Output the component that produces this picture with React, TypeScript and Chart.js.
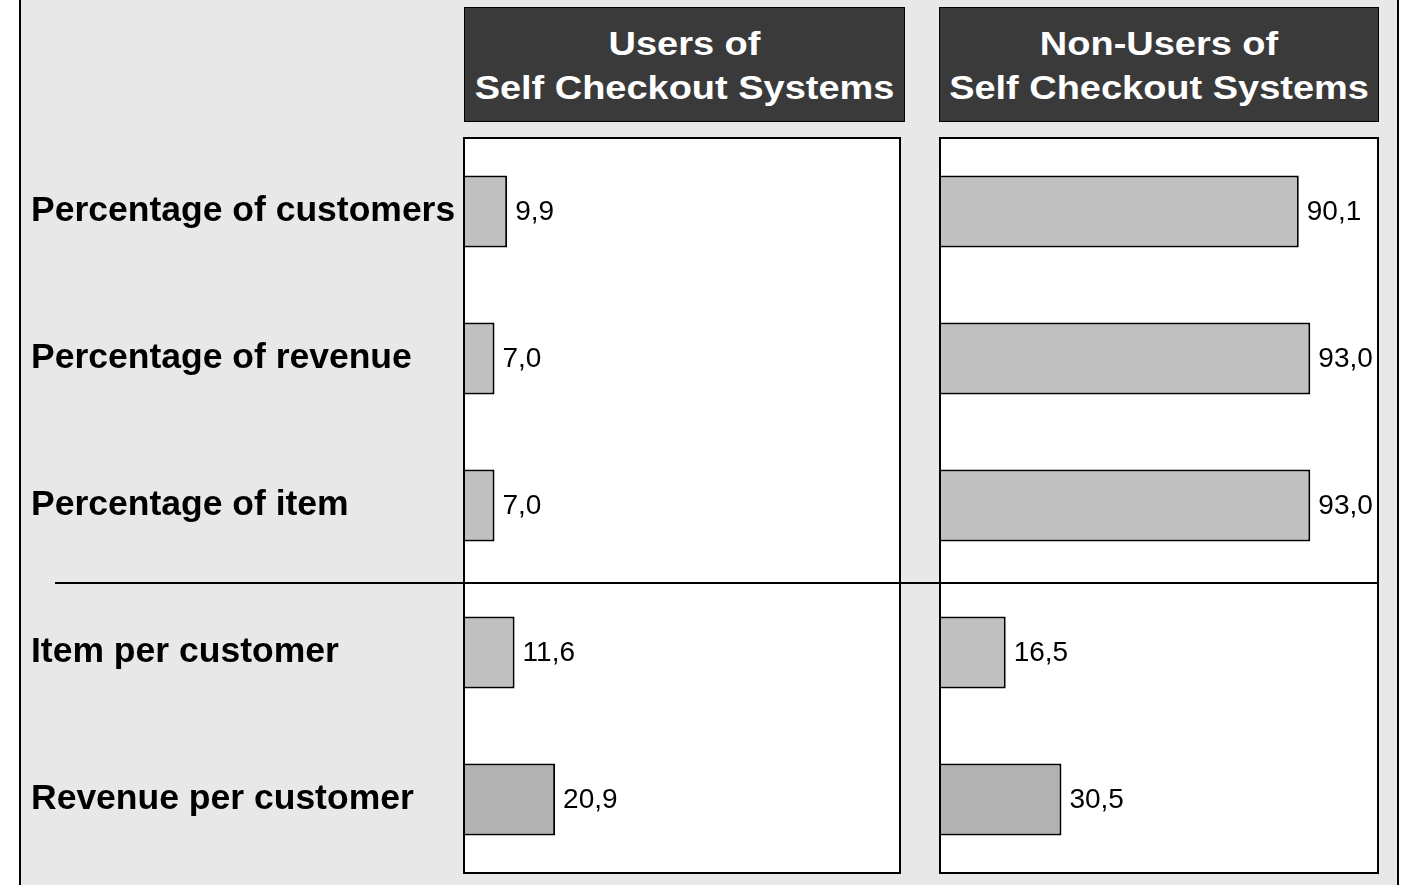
import React, { useEffect, useRef } from 'react';
import { Chart, registerables } from 'chart.js';

Chart.register(...registerables);

// ---- data ----
const categories = [
  'Percentage of customers',
  'Percentage of revenue',
  'Percentage of item',
  'Item per customer',
  'Revenue per customer',
];
const usersValues = [9.9, 7.0, 7.0, 11.6, 20.9];
const nonUsersValues = [90.1, 93.0, 93.0, 16.5, 30.5];
const usersTitle = ['Users of', 'Self Checkout Systems'];
const nonUsersTitle = ['Non-Users of', 'Self Checkout Systems'];
const barColors = ['#c0c0c0', '#c0c0c0', '#c0c0c0', '#c0c0c0', '#b2b2b2'];
const usersAxisMax = 100;
const nonUsersAxisMax = 110;
const separatorAfterIndex = 2; // line between "Percentage of item" and "Item per customer"

const FONT = '"Liberation Sans", Arial, Helvetica, sans-serif';

const fmt = (v: number) => v.toFixed(1).replace('.', ',');

function makeDecorPlugin(values: number[], sepStart: number, sepToCanvasEdge: boolean) {
  return {
    id: 'panelDecor',
    beforeDraw(chart: any) {
      const { ctx, chartArea: a } = chart;
      ctx.save();
      ctx.fillStyle = '#ffffff';
      ctx.fillRect(a.left, a.top, a.right - a.left, a.bottom - a.top);
      ctx.restore();
    },
    afterDatasetsDraw(chart: any) {
      const { ctx, chartArea: a } = chart;
      const ys = chart.scales.y;
      ctx.save();
      // frame
      ctx.strokeStyle = '#000';
      ctx.lineWidth = 2;
      ctx.strokeRect(a.left, a.top, a.right - a.left, a.bottom - a.top);
      // separator
      const sy =
        (ys.getPixelForValue(separatorAfterIndex) + ys.getPixelForValue(separatorAfterIndex + 1)) / 2 + 4;
      ctx.beginPath();
      ctx.moveTo(sepStart, sy);
      ctx.lineTo(sepToCanvasEdge ? chart.width : a.right, sy);
      ctx.stroke();
      // value labels
      ctx.fillStyle = '#000';
      ctx.font = `28px ${FONT}`;
      ctx.textAlign = 'left';
      ctx.textBaseline = 'middle';
      const meta = chart.getDatasetMeta(0);
      meta.data.forEach((bar: any, i: number) => {
        ctx.fillText(fmt(values[i]), bar.x + 8, bar.y + 1);
      });
      ctx.restore();
    },
  };
}

function Panel(props: {
  values: number[];
  max: number;
  showLabels: boolean;
  left: number;
  width: number;
  padLeft: number;
  sepStart: number;
  sepToEdge: boolean;
}) {
  const ref = useRef<HTMLCanvasElement | null>(null);
  useEffect(() => {
    if (!ref.current) return;
    const chart = new Chart(ref.current, {
      type: 'bar',
      data: {
        labels: categories,
        datasets: [
          {
            data: props.values,
            backgroundColor: barColors,
            borderColor: '#000',
            borderWidth: 2,
            borderSkipped: 'start',
            barPercentage: 0.49,
            categoryPercentage: 1,
          },
        ],
      },
      options: {
        indexAxis: 'y',
        animation: false,
        responsive: false,
        devicePixelRatio: 1,
        layout: { padding: { left: props.padLeft, right: 3, top: 2, bottom: 3 } },
        plugins: { legend: { display: false }, tooltip: { enabled: false }, title: { display: false } },
        scales: {
          x: { display: false, min: 0, max: props.max },
          y: {
            display: props.showLabels,
            grid: { display: false },
            border: { display: false },
            afterFit: (scale: any) => {
              if (props.showLabels) {
                scale.width = 433;
                scale.paddingTop = 0;
                scale.paddingBottom = 0;
              }
            },
            ticks: {
              crossAlign: 'far',
              padding: 0,
              color: '#000',
              font: { family: FONT, size: 35.5, weight: 'bold' },
            },
          },
        },
      },
      plugins: [makeDecorPlugin(props.values, props.sepStart, props.sepToEdge)],
    } as any);
    return () => chart.destroy();
  }, []);
  return (
    <canvas
      ref={ref}
      width={props.width}
      height={740}
      style={{ position: 'absolute', left: props.left, top: 136, width: props.width, height: 740 }}
    />
  );
}

function Header(props: { lines: string[]; left: number; width: number }) {
  return (
    <div
      style={{
        position: 'absolute',
        left: props.left,
        top: 7,
        width: props.width,
        height: 115,
        boxSizing: 'border-box',
        background: '#3a3a3a',
        border: '1px solid #000',
        color: '#fff',
        fontFamily: FONT,
        fontWeight: 'bold',
        fontSize: 33,
        lineHeight: '44px',
        textAlign: 'center',
        paddingTop: 14,
        overflow: 'hidden',
      }}
    >
      <div style={{ transform: 'scaleX(1.15)', transformOrigin: 'center' }}>
        {props.lines.map((l) => (
          <div key={l}>{l}</div>
        ))}
      </div>
    </div>
  );
}

export default function App() {
  return (
    <div
      style={{
        position: 'absolute',
        left: 0,
        top: 0,
        width: 1403,
        height: 885,
        background: '#ffffff',
        overflow: 'hidden',
      }}
    >
      <div
        style={{
          position: 'absolute',
          left: 19,
          top: 0,
          width: 1380,
          height: 885,
          boxSizing: 'border-box',
          background: '#e8e8e8',
          borderLeft: '2px solid #000',
          borderRight: '2px solid #000',
        }}
      />
      <Header lines={usersTitle} left={464} width={441} />
      <Header lines={nonUsersTitle} left={939} width={440} />
      <Panel
        values={usersValues}
        max={usersAxisMax}
        showLabels={true}
        left={21}
        width={882}
        padLeft={10}
        sepStart={34}
        sepToEdge={true}
      />
      <Panel
        values={nonUsersValues}
        max={nonUsersAxisMax}
        showLabels={false}
        left={903}
        width={478}
        padLeft={37}
        sepStart={0}
        sepToEdge={false}
      />
    </div>
  );
}
